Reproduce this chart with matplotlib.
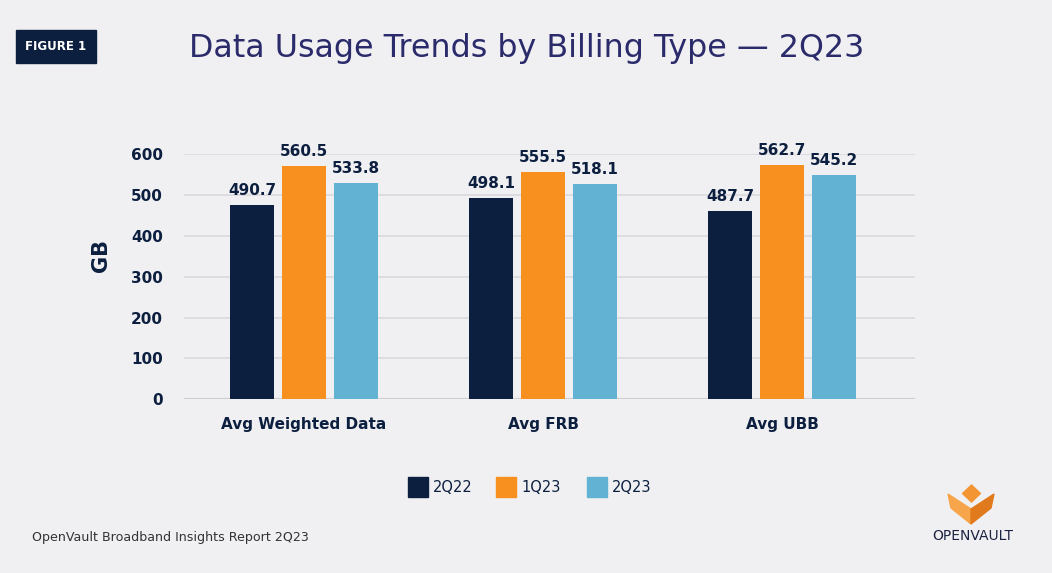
import matplotlib.pyplot as plt
from matplotlib.patches import Rectangle, Polygon

categories = ["Avg Weighted Data", "Avg FRB", "Avg UBB"]
series = ["2Q22", "1Q23", "2Q23"]
# printed data labels
labels_2q22 = [490.7, 498.1, 487.7]
labels_1q23 = [560.5, 555.5, 562.7]
labels_2q23 = [533.8, 518.1, 545.2]
# bar heights as drawn in the source (they do not match the labels exactly)
bars_2q22 = [475, 492, 461]
bars_1q23 = [571, 556, 574]
bars_2q23 = [530, 527, 549]
yticks = [0, 100, 200, 300, 400, 500, 600]

W, H = 1052, 573
bg = "#f0f0f3"
navy = "#0c1f3f"
colors = ["#0c1f3f", "#f7901e", "#62b3d3"]
title_col = "#2b2b6b"

def fx(px):
    return px / W

def fy(py):
    return 1 - py / H

plt.rcParams["font.family"] = ["DejaVu Sans"]
fig = plt.figure(figsize=(W / 100, H / 100), dpi=100, facecolor=bg)
ax = fig.add_axes([fx(184), fy(399.3), fx(915) - fx(184), fy(154) - fy(399.3)])
ax.set_facecolor(bg)

step = 0.2176
width = 0.184
heights = [bars_2q22, bars_1q23, bars_2q23]
texts = [labels_2q22, labels_1q23, labels_2q23]
for i, name in enumerate(series):
    xs = [c + (i - 1) * step for c in range(len(categories))]
    ax.bar(xs, heights[i], width=width, color=colors[i], zorder=3, label=name)
    for x, h, t in zip(xs, heights[i], texts[i]):
        ax.annotate(f"{t:.1f}", (x, h), xytext=(0, 5), textcoords="offset points",
                    ha="center", va="bottom", fontsize=11, fontweight="bold", color=navy)

ax.set_xlim(-0.502, 2.556)
ax.set_ylim(0, 600)
ax.set_yticks(yticks)
ax.set_yticklabels([str(v) for v in yticks], fontsize=11, fontweight="bold", color=navy)
ax.set_xticks(range(len(categories)))
ax.set_xticklabels(categories, fontsize=11, fontweight="bold", color=navy)
ax.tick_params(axis="y", length=0, pad=15)
ax.tick_params(axis="x", length=0, pad=13)
ax.grid(axis="y", color="#dcdce0", linewidth=1.3, zorder=0)
for s in ax.spines.values():
    s.set_visible(False)
ax.axhline(0, color="#cfcfd4", linewidth=1.6, zorder=2)

fig.text(fx(101), fy(255), "GB", rotation=90, ha="center", va="center",
         fontsize=15, fontweight="bold", color=navy)

# title and figure tag
fig.text(fx(527), fy(48), "Data Usage Trends by Billing Type \u2014 2Q23", ha="center",
         va="center", fontsize=22.9, color=title_col)
fig.add_artist(Rectangle((fx(16), fy(63)), fx(96) - fx(16), fy(30) - fy(63),
                         transform=fig.transFigure, color=navy))
fig.text(fx(56), fy(46.5), "FIGURE 1", ha="center", va="center", fontsize=8.5,
         fontweight="bold", color="white")

# legend
leg_x = [408, 496, 587]
for i, name in enumerate(series):
    fig.add_artist(Rectangle((fx(leg_x[i]), fy(497)), 20 / W, 20 / H,
                             transform=fig.transFigure, color=colors[i]))
    fig.text(fx(leg_x[i] + 25), fy(487), name, ha="left", va="center",
             fontsize=10.5, color=navy)

fig.text(fx(32), fy(537), "OpenVault Broadband Insights Report 2Q23", ha="left",
         va="center", fontsize=9.1, color="#333333")

# logo
diamond = [(971.5, 485), (980.5, 493.5), (971.5, 502), (962.5, 493.5)]
v_left = [(948, 494), (971, 509), (971, 524), (951, 508)]
v_right = [(994, 494), (971, 509), (971, 524), (991, 508)]
for pts, c in [(diamond, "#f39533"), (v_left, "#f7a54a"), (v_right, "#e07a1c")]:
    fig.add_artist(Polygon([(fx(a), fy(b)) for a, b in pts], closed=True,
                           transform=fig.transFigure, color=c))
fig.text(fx(973), fy(536), "OPENVAULT", ha="center", va="center", fontsize=10,
         color="#1c2340")

fig.savefig("out.png", dpi=100, facecolor=bg)
